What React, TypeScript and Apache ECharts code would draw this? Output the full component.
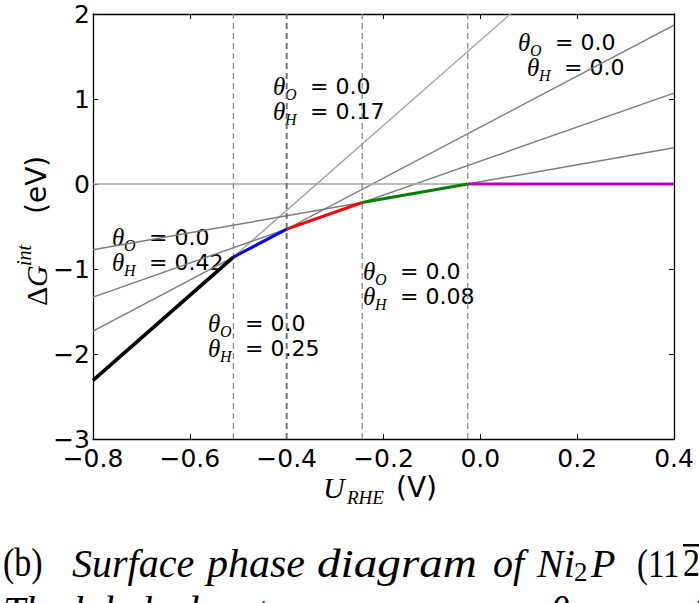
import React, { useEffect, useRef } from "react";
import * as echarts from "echarts";

// Lower envelope (stable phase) breakpoints: potential U (V) and ΔG (eV)
const hullU = [-0.8, -0.51, -0.4, -0.244, -0.026, 0.4];
const hullG = [-2.31, -0.86, -0.53, -0.218, 0, 0];
// Hydrogen coverage of each stable phase, left to right
const phaseThetaH = ["0.42", "0.25", "0.17", "0.08", "0.0"];
const phaseColors = ["#000000", "#0000ff", "#ff0000", "#008000", "#bf00bf"];
const phaseWidths = [3.6, 3, 3, 3, 3];

// Each phase's free-energy line over the whole window (values at U = -0.8 and U = 0.4)
const lineU = [-0.8, 0.4];
const lineLeftG = [-2.31, -1.73, -1.33, -0.774, 0];
const lineRightG = [3.69, 1.87, 1.07, 0.426, 0];
const lineColors = ["#a6a6a6", "#7c7c7c", "#7c7c7c", "#7c7c7c", "#a6a6a6"];

// Phase boundaries (dashed verticals)
const boundaryU = [-0.51, -0.4, -0.244, -0.026];
const boundaryColors = ["#8a8a8a", "#6e6e6e", "#8a8a8a", "#8a8a8a"];
const boundaryWidths = [1.3, 1.9, 1.3, 1.3];

const xRange = [-0.8, 0.4];
const yRange = [-3, 2];

const SANS = '"DejaVu Sans"';
const SERIF = '"Liberation Serif"';

const minus = (s: string) => s.replace("-", "\u2212");

function txt(
  x: number,
  y: number,
  text: string,
  font: string,
  va = "middle",
  align = "left",
  scaleX = 1
) {
  return {
    type: "text",
    x,
    y,
    scaleX,
    silent: true,
    style: {
      text,
      font,
      fill: "#000",
      align,
      textAlign: align,
      verticalAlign: va,
      textVerticalAlign: va,
    },
  };
}

// θ_O = 0.0 / θ_H = x annotation, two lines
function coverageLabel(x: number, y: number, thetaH: string, dx2 = 0) {
  const thetaFont = `italic 25px ${SERIF}`;
  const subFont = `italic 16px ${SERIF}`;
  const valFont = `22px ${SANS}`;
  const y2 = y + 25;
  return [
    txt(x, y, "θ", thetaFont),
    txt(x + 12, y + 8, "O", subFont),
    txt(x + 30, y, " = 0.0", valFont),
    txt(x + dx2, y2, "θ", thetaFont),
    txt(x + dx2 + 12, y2 + 8, "H", subFont),
    txt(x + dx2 + 30, y2, " = " + thetaH, valFont),
  ];
}

export default function App() {
  const ref = useRef<HTMLDivElement>(null);

  useEffect(() => {
    if (!ref.current) return;
    const chart = echarts.init(ref.current, null, { renderer: "svg" });

    const series: any[] = [];

    // Extended phase lines (gray)
    lineLeftG.forEach((g0, i) => {
      series.push({
        type: "line",
        silent: true,
        symbol: "none",
        data: [
          [lineU[0], g0],
          [lineU[1], lineRightG[i]],
        ],
        lineStyle: { color: lineColors[i], width: 1.4 },
        z: 2,
      });
    });

    // Phase boundaries
    boundaryU.forEach((u, i) => {
      series.push({
        type: "line",
        silent: true,
        symbol: "none",
        data: [
          [u, yRange[0]],
          [u, yRange[1]],
        ],
        lineStyle: { color: boundaryColors[i], width: boundaryWidths[i], type: [6, 4] },
        z: 3,
      });
    });

    // Stable-phase segments
    phaseThetaH.forEach((_, i) => {
      series.push({
        type: "line",
        silent: true,
        symbol: "none",
        data: [
          [hullU[i], hullG[i]],
          [hullU[i + 1], hullG[i + 1]],
        ],
        lineStyle: { color: phaseColors[i], width: phaseWidths[i] },
        z: 4,
      });
    });

    const axisLine = { show: true, onZero: false, lineStyle: { color: "#000", width: 1.3 } };
    const tick = { show: true, inside: true, length: 5, lineStyle: { color: "#000", width: 1 } };

    const capFont = `40px ${SERIF}`;
    const capItal = `italic 40px ${SERIF}`;

    const graphic: any[] = [
      ...coverageLabel(273, 86, phaseThetaH[2]),
      ...coverageLabel(518, 42, phaseThetaH[4], 9),
      ...coverageLabel(112, 237, phaseThetaH[0]),
      ...coverageLabel(363, 271, phaseThetaH[3]),
      ...coverageLabel(208, 323, phaseThetaH[1]),

      // x-axis title: U_RHE (V)
      txt(323, 487, "U", `italic 30px ${SERIF}`),
      txt(347, 497, "RHE", `italic 19px ${SERIF}`),
      txt(396, 487, "(V)", `28px ${SANS}`),

      // y-axis title: ΔG^int (eV), reading bottom to top
      {
        type: "group",
        x: 36,
        y: 306,
        rotation: Math.PI / 2,
        children: [
          txt(0, 0, "Δ", `30px ${SERIF}`),
          txt(19, 0, "G", `italic 30px ${SERIF}`),
          txt(40, -12, "int", `italic 20px ${SERIF}`),
          txt(92, 0, "(eV)", `28px ${SANS}`),
        ],
      },

      // caption
      txt(3, 563, "(b)", capFont, "middle", "left", 0.85),
      txt(72, 563, "Surface", capItal),
      txt(207, 563, "phase", capItal, "middle", "left", 1.05),
      txt(317, 563, "diagram", capItal, "middle", "left", 1.18),
      txt(493, 563, "of", capItal),
      txt(537, 563, "Ni", capItal),
      txt(574, 572, "2", `27px ${SERIF}`),
      txt(591, 563, "P", capItal),
      txt(637, 563, "(11", capFont, "middle", "left", 0.82),
      txt(683, 563, "20", capFont, "middle", "left", 0.85),
      {
        type: "rect",
        silent: true,
        shape: { x: 683, y: 544, width: 16, height: 2.5 },
        style: { fill: "#000" },
      },
      txt(3, 590, "The labels denote coverages", capItal, "top"),
      txt(550, 590, "θ", capItal, "top"),
      txt(688, 590, "/", capItal, "top"),
    ];

    chart.setOption({
      animation: false,
      backgroundColor: "#ffffff",
      grid: { left: 93, right: 25, top: 14, bottom: 164, containLabel: false },
      xAxis: [
        {
          type: "value",
          min: xRange[0],
          max: xRange[1],
          interval: 0.2,
          axisLine,
          axisTick: tick,
          splitLine: { show: false },
          axisLabel: {
            margin: 7,
            color: "#000",
            fontFamily: SANS,
            fontSize: 25,
            formatter: (v: number) => minus(v.toFixed(1)),
          },
        },
        {
          type: "value",
          position: "top",
          min: xRange[0],
          max: xRange[1],
          interval: 0.2,
          axisLine,
          axisTick: tick,
          splitLine: { show: false },
          axisLabel: { show: false },
        },
      ],
      yAxis: [
        {
          type: "value",
          min: yRange[0],
          max: yRange[1],
          interval: 1,
          axisLine,
          axisTick: tick,
          splitLine: { show: false },
          axisLabel: {
            margin: 3,
            color: "#000",
            fontFamily: SANS,
            fontSize: 25,
            formatter: (v: number) => minus(String(Math.round(v))),
          },
        },
        {
          type: "value",
          position: "right",
          min: yRange[0],
          max: yRange[1],
          interval: 1,
          axisLine,
          axisTick: tick,
          splitLine: { show: false },
          axisLabel: { show: false },
        },
      ],
      series,
      graphic,
    });

    return () => chart.dispose();
  }, []);

  return (
    <div
      ref={ref}
      style={{ position: "absolute", left: 0, top: 0, width: 699, height: 603, background: "#fff" }}
    />
  );
}
